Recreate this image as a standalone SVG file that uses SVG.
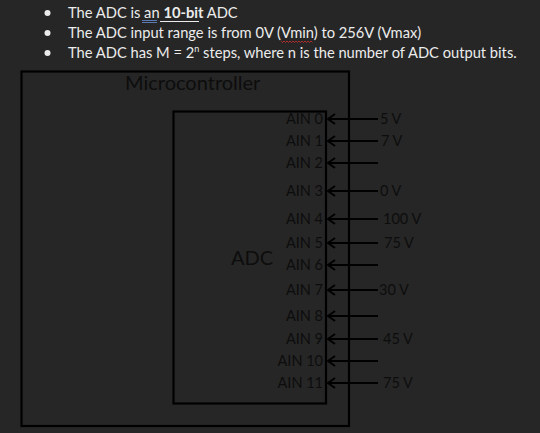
<svg xmlns="http://www.w3.org/2000/svg" width="540" height="433" viewBox="0 0 540 433">
<style>
.bul{font-family:Lato,"Liberation Sans",sans-serif;font-size:14.7px;fill:#ececec}
.lbl{font-family:Lato,"Liberation Sans",sans-serif;font-size:14.5px;fill:#0d0d0d}
.big{font-family:Lato,"Liberation Sans",sans-serif;font-size:20px;fill:#0d0d0d}
.box{fill:none;stroke:#000;stroke-width:2.2}
.con{fill:none;stroke:#000;stroke-width:2}
</style>
<defs>
<marker id="ah" markerWidth="12" markerHeight="12" refX="9" refY="6" orient="auto" markerUnits="userSpaceOnUse">
<path d="M2,1 L9,6 L2,11" fill="none" stroke="#000" stroke-width="2"/>
</marker>
</defs>
<rect width="540" height="433" fill="#262626"/>
<g id="bullets">
<circle cx="47.5" cy="13" r="3" fill="#ececec"/>
<circle cx="47.5" cy="33" r="3" fill="#ececec"/>
<circle cx="47.5" cy="53" r="3" fill="#ececec"/>
<text class="bul" x="68" y="18">The ADC is <tspan>an</tspan> <tspan font-weight="bold">10-bit</tspan> ADC</text>
<text class="bul" x="68" y="38">The ADC input range is from 0V (Vmin) to 256V (Vmax)</text>
<text class="bul" x="68" y="58">The ADC has M = 2<tspan font-size="9" dy="-6">n</tspan><tspan dy="6"> steps, where n is the number of ADC output bits.</tspan></text>
<path d="M142,20.5 H157 M142,22.5 H157" stroke="#6a8fd8" stroke-width="0.8"/>
<path d="M160,21.5 H199" stroke="#ececec" stroke-width="1"/>
<path d="M281,41 l1.5,1.5 l1.5,-1.5 l1.5,1.5 l1.5,-1.5 l1.5,1.5 l1.5,-1.5 l1.5,1.5 l1.5,-1.5 l1.5,1.5 l1.5,-1.5 l1.5,1.5 l1.5,-1.5 l1.5,1.5 l1.5,-1.5 l1.5,1.5 l1.5,-1.5 l1.5,1.5 l1.5,-1.5 l1.5,1.5 l1.5,-1.5 l1.5,1.5" fill="none" stroke="#d03030" stroke-width="0.8"/>
</g>
<g id="microcontroller">
<rect class="box" x="21.5" y="71.5" width="327.5" height="354.5"/>
<text class="big" x="125" y="90">Microcontroller</text>
</g>
<g id="adc">
<rect class="box" x="173.5" y="111.5" width="152.5" height="292"/>
<text class="big" x="231" y="265">ADC</text>
</g>
<g id="pins" text-anchor="end">
<text class="lbl" x="323" y="124">AIN 0</text>
<text class="lbl" x="323" y="146">AIN 1</text>
<text class="lbl" x="323" y="168">AIN 2</text>
<text class="lbl" x="323" y="196">AIN 3</text>
<text class="lbl" x="323" y="224">AIN 4</text>
<text class="lbl" x="323" y="248">AIN 5</text>
<text class="lbl" x="323" y="270">AIN 6</text>
<text class="lbl" x="323" y="295">AIN 7</text>
<text class="lbl" x="323" y="321">AIN 8</text>
<text class="lbl" x="323" y="344">AIN 9</text>
<text class="lbl" x="323" y="366">AIN 10</text>
<text class="lbl" x="323" y="388">AIN 11</text>
</g>
<g id="connectors">
<path class="con" marker-end="url(#ah)" d="M378,119 H328"/>
<path class="con" marker-end="url(#ah)" d="M378,141 H328"/>
<path class="con" marker-end="url(#ah)" d="M378,163 H328"/>
<path class="con" marker-end="url(#ah)" d="M378,191 H328"/>
<path class="con" marker-end="url(#ah)" d="M378,219 H328"/>
<path class="con" marker-end="url(#ah)" d="M378,243 H328"/>
<path class="con" marker-end="url(#ah)" d="M378,265 H328"/>
<path class="con" marker-end="url(#ah)" d="M378,290 H328"/>
<path class="con" marker-end="url(#ah)" d="M378,316 H328"/>
<path class="con" marker-end="url(#ah)" d="M378,339 H328"/>
<path class="con" marker-end="url(#ah)" d="M378,361 H328"/>
<path class="con" marker-end="url(#ah)" d="M378,383 H328"/>
</g>
<g id="values">
<text class="lbl" x="380" y="124">5 V</text>
<text class="lbl" x="381" y="146">7 V</text>
<text class="lbl" x="380" y="196">0 V</text>
<text class="lbl" x="383" y="224">100 V</text>
<text class="lbl" x="384" y="248">75 V</text>
<text class="lbl" x="379" y="295">30 V</text>
<text class="lbl" x="383" y="344">45 V</text>
<text class="lbl" x="383" y="388">75 V</text>
</g>
</svg>
